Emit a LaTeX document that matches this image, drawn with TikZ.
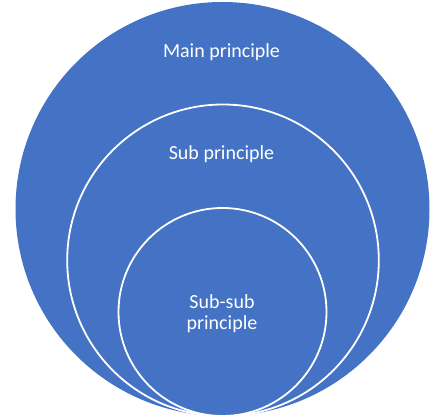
\documentclass[tikz,border=0pt]{standalone}
\usepackage{fontspec}
\setmainfont{Carlito}
\usetikzlibrary{positioning}
\definecolor{ringblue}{HTML}{4472C4}

\begin{document}
\begin{tikzpicture}[
     x=1pt, y=1pt,
     % define styles
     ring/.style={
         draw=white,
         fill=ringblue,
         circle,
         line width=1.8pt,
         inner sep=0pt
     },
     caption/.style={
         text=white,
         font=\fontsize{20}{21}\selectfont,
         align=center
     }
]
\useasboundingbox (0,0) rectangle (445,419);
% nested circles, all touching at the bottom
\node[ring, draw=none, minimum size=414pt] (main) at (222.5,210) {};
\node[ring, minimum size=311.6pt] (sub) at (223,158.7) {};
\node[ring, minimum size=208pt] (subsub) at (222.5,107) {};
% labels
\node[caption, anchor=base] (mainlabel) at (221.5,361.7) {Main principle};
\node[caption, anchor=base] (sublabel) at (221.5,259.5) {Sub principle};
\node[caption, anchor=base] (subsublabel) at (222,89.7) {Sub-sub\\principle};
\end{tikzpicture}
\end{document}
